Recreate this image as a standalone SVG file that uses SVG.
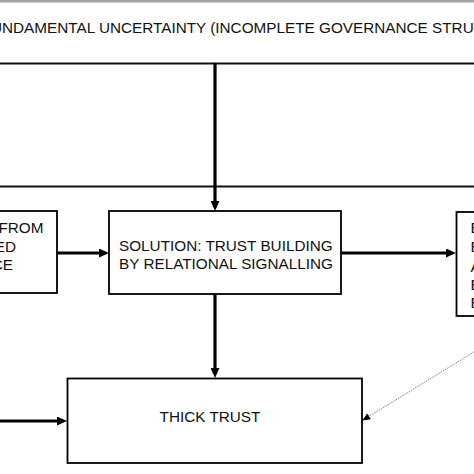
<svg xmlns="http://www.w3.org/2000/svg" width="474" height="474" viewBox="0 0 474 474">
  <defs>
    <style>
      .box { fill: #ffffff; stroke: #000000; stroke-width: 1.8; }
      .txt { font-family: "Liberation Sans", Arial, sans-serif; font-size: 15.3px; fill: #111111; }
      .thick { stroke: #000000; stroke-width: 3.2; fill: none; }
      .rule { stroke: #111111; stroke-width: 2; fill: none; }
      .dot { stroke: #777777; stroke-width: 1; stroke-dasharray: 1.2 1; fill: none; }
    </style>
    <marker id="ah" viewBox="0 0 10 10" refX="6" refY="5" markerWidth="10" markerHeight="9" markerUnits="userSpaceOnUse" orient="auto" preserveAspectRatio="none">
      <path d="M0,0 L10,5 L0,10 z" fill="#000000"/>
    </marker>
    <marker id="ahs" viewBox="0 0 10 10" refX="9" refY="5" markerWidth="8" markerHeight="7" markerUnits="userSpaceOnUse" orient="auto" preserveAspectRatio="none">
      <path d="M0,0 L10,5 L0,10 z" fill="#000000"/>
    </marker>
  </defs>
  <rect width="474" height="474" fill="#ffffff"/>
  <rect x="0" y="0" width="474" height="2.5" fill="#a3a3a3"/>

  <g id="title">
    <text class="txt" x="-18.4" y="33">FUNDAMENTAL UNCERTAINTY (INCOMPLETE GOVERNANCE STRUCTURE)</text>
  </g>

  <g id="connectors">
    <line class="rule" x1="0" y1="63.5" x2="474" y2="63.5" stroke="#333333"/>
    <line class="rule" x1="0" y1="186.5" x2="474" y2="186.5"/>
    <line class="thick" x1="215" y1="63" x2="215" y2="207" marker-end="url(#ah)"/>
    <line class="thick" x1="57" y1="253" x2="105" y2="253" marker-end="url(#ah)"/>
    <line class="thick" x1="341" y1="253" x2="452" y2="253" marker-end="url(#ah)"/>
    <line class="thick" x1="215" y1="294" x2="215" y2="374" marker-end="url(#ah)"/>
    <line class="thick" x1="0" y1="421" x2="63" y2="421" marker-end="url(#ah)"/>
    <line class="dot" x1="474" y1="352" x2="363" y2="420" marker-end="url(#ahs)"/>
  </g>

  <g id="problem">
    <rect class="box" x="-20" y="211" width="77" height="82"/>
    <text class="txt" x="43.5" y="233" text-anchor="end">FROM</text>
    <text class="txt" x="16" y="251.5" text-anchor="end">ED</text>
    <text class="txt" x="13" y="270" text-anchor="end">CE</text>
  </g>

  <g id="solution">
    <rect class="box" x="109" y="211" width="232" height="83"/>
    <text class="txt" x="119" y="251">SOLUTION: TRUST BUILDING</text>
    <text class="txt" x="119" y="269">BY RELATIONAL SIGNALLING</text>
  </g>

  <g id="outcome">
    <rect class="box" x="456.5" y="212" width="40" height="104"/>
    <text class="txt" x="470.5" y="233">E</text>
    <text class="txt" x="470.5" y="252">E</text>
    <text class="txt" x="470.5" y="272">A</text>
    <text class="txt" x="470.5" y="290">E</text>
    <text class="txt" x="470.5" y="308">E</text>
  </g>

  <g id="thick-trust">
    <rect class="box" x="67.5" y="378.5" width="294.5" height="84.5"/>
    <text class="txt" x="210" y="421.5" text-anchor="middle">THICK TRUST</text>
  </g>
</svg>
